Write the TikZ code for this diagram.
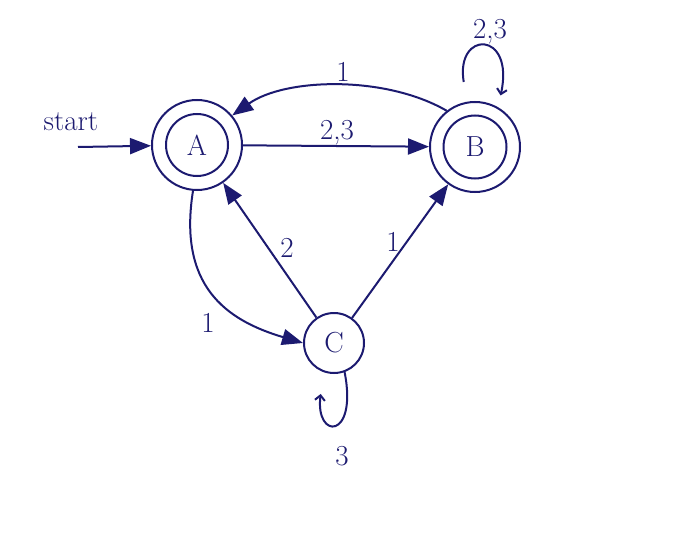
\documentclass[tikz,border=0pt]{standalone}
\usepackage{fontspec}
\setmainfont{Latin Modern Roman}
\usetikzlibrary{arrows.meta,positioning}
\definecolor{ink}{RGB}{28,26,112}

\begin{document}
\begin{tikzpicture}[x=1pt,y=-1pt,every node/.style={font=\fontsize{29}{34}\selectfont,text=ink},
  line width=2pt,draw=ink,
  trans/.style={draw=ink,-{Triangle[length=21pt,width=16pt]}},
  selfloop/.style={draw=ink,-{Straight Barb[length=5pt,width=10pt]}}]
\useasboundingbox (0,0) rectangle (700,548);
% states
\node[circle,draw=ink,minimum size=90pt,inner sep=0pt](a) at (197,145){};\node[circle,draw=ink,minimum size=62pt,inner sep=0pt](ai) at (a){A};
\node[circle,draw=ink,minimum size=90pt,inner sep=0pt](b) at (475,147){};\node[circle,draw=ink,minimum size=63pt,inner sep=0pt](bi) at (b){B};
\node[circle,draw=ink,minimum size=60pt,inner sep=0pt](c) at (334,343){C};
\coordinate(s) at (78,147);\node(st) at (71,122){start};
% transitions
\draw[trans](s)--(a);
\draw[trans](a)--(b);\node(l23) at (337,133){2,3};
\draw[trans](b.128) .. controls (385,75) and (285,78) .. (a.40);\node(l1t) at (343,72){1};
\draw[trans](c)--(a);\node(l2) at (287,248){2};
\draw[trans](c)--(b);\node(l1r) at (393,242){1};
\draw[trans](a.265) .. controls (178,285) and (225,320) .. (c.180);\node(l1l) at (208,323){1};
\draw[selfloop,shorten <=20pt,shorten >=12pt](b.100) .. controls (455,30) and (515,30) .. (b.60);\node(lb) at (490,32){2,3};
\draw[selfloop,shorten >=22pt](c.290) .. controls (358,440) and (315,440) .. (c.250);\node(l3) at (342,456){3};
\end{tikzpicture}
\end{document}
